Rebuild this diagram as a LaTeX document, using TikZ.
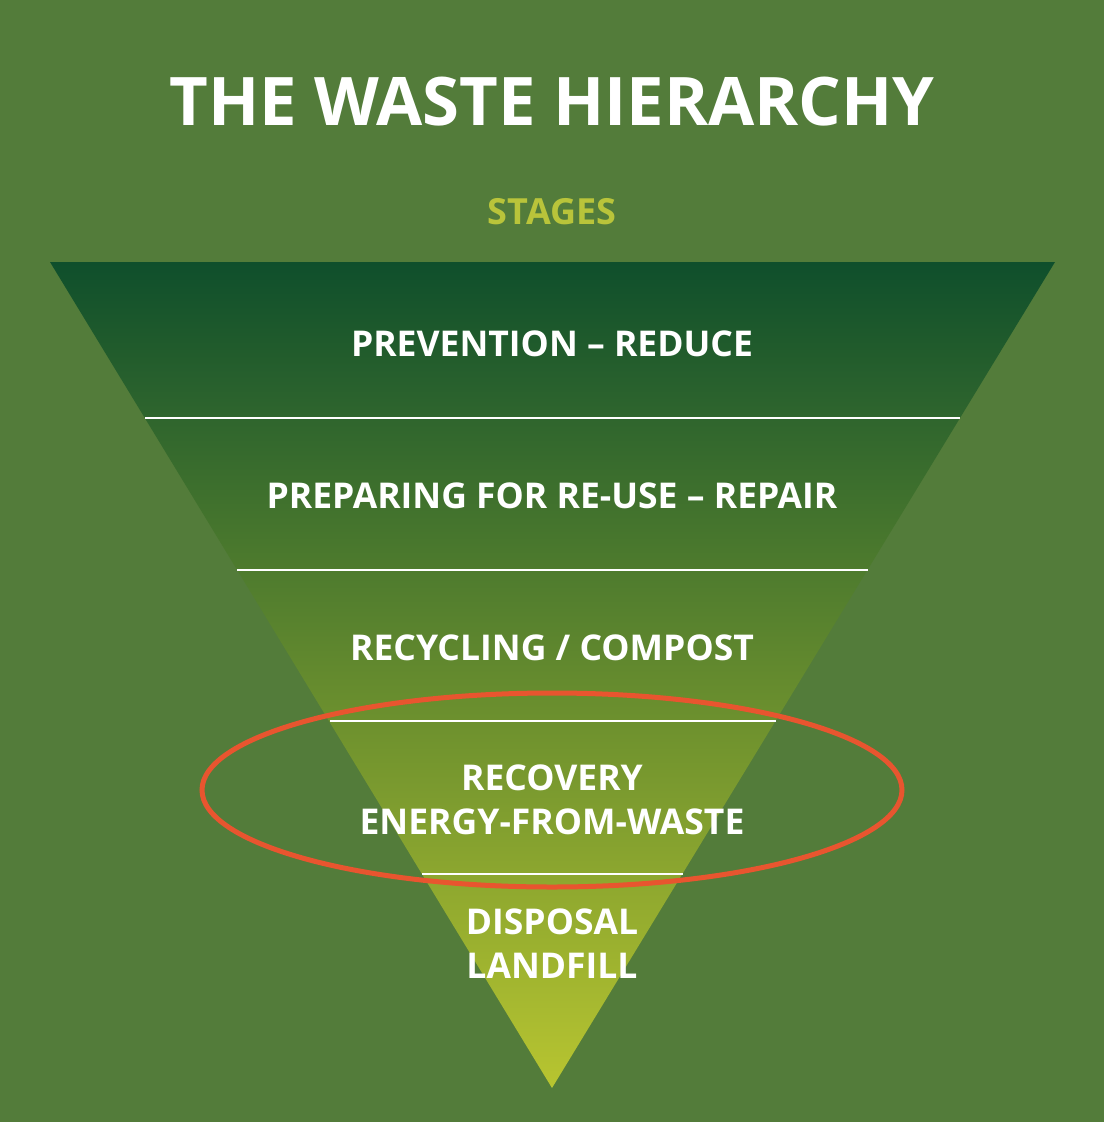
\documentclass[tikz,border=0pt]{standalone}
\usepackage{fontspec}
\setmainfont{Open Sans}
\definecolor{bg}{HTML}{537C3A}
\definecolor{topg}{HTML}{0F4F2C}
\definecolor{midg}{HTML}{557F37}
\definecolor{botg}{HTML}{B8C530}
\definecolor{stg}{HTML}{B9C43A}
\definecolor{ring}{HTML}{E8552F}
\begin{document}
\begin{tikzpicture}[x=1pt,y=-1pt,
  lbl/.style={text=white,font=\bfseries\fontsize{35.5}{44}\selectfont,align=center},
  sep/.style={draw=white,line width=2.5pt}]
\fill[bg] (0,0) rectangle (1104,1122);
\useasboundingbox (0,0) rectangle (1104,1122);
\shade[top color=topg,middle color=midg,bottom color=botg] (50,262) -- (1055,262) -- (552,1088) -- cycle;
\node[text=white,font=\bfseries\fontsize{67}{72}\selectfont] (title) at (552,102) {THE WASTE HIERARCHY};
\node[text=stg,font=\bfseries\fontsize{36}{40}\selectfont] (stages) at (552,212) {STAGES};
\coordinate (a1) at (145,418); \coordinate (b1) at (960,418);
\coordinate (a2) at (237,570); \coordinate (b2) at (868,570);
\coordinate (a3) at (330,721); \coordinate (b3) at (776,721);
\coordinate (a4) at (422,874); \coordinate (b4) at (683,874);
\draw[sep] (a1) -- (b1); \draw[sep] (a2) -- (b2); \draw[sep] (a3) -- (b3); \draw[sep] (a4) -- (b4);
\node[lbl] (l1) at (552,344) {PREVENTION – REDUCE};
\node[lbl] (l2) at (552,496) {PREPARING FOR RE-USE – REPAIR};
\node[lbl] (l3) at (552,648) {RECYCLING / COMPOST};
\node[lbl] (l4) at (552,800) {RECOVERY\\ENERGY-FROM-WASTE};
\node[lbl] (l5) at (552,944) {DISPOSAL\\LANDFILL};
\draw[ring,line width=5pt] (552,790) ellipse [x radius=350,y radius=97];
\end{tikzpicture}
\end{document}
